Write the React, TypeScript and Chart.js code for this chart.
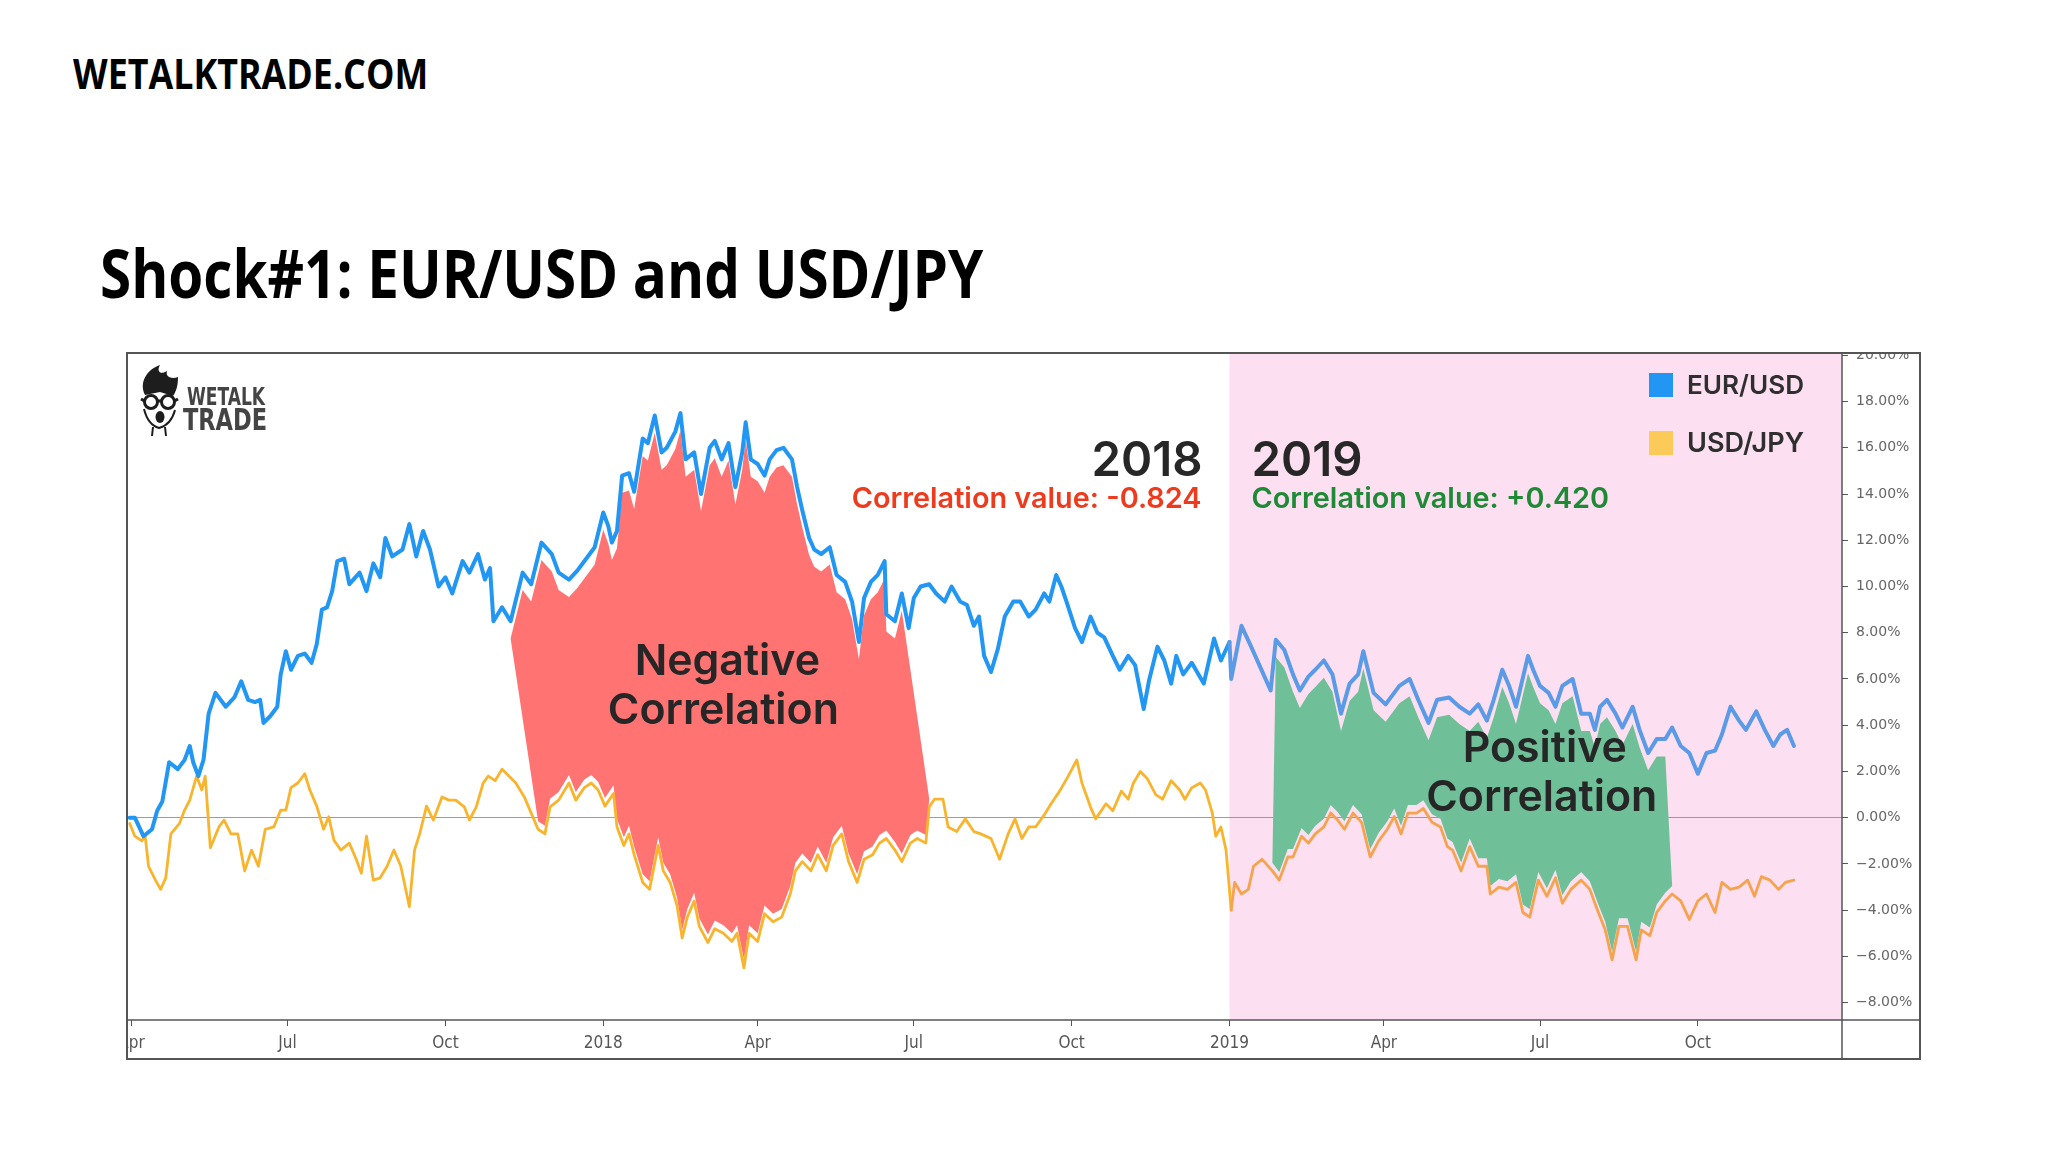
import React, { useEffect, useRef } from "react";
import { Chart, registerables } from "chart.js";

Chart.register(...registerables);

// Closes sampled every few sessions: day offset since 31 Mar 2017 and % change since then.
const BASE_UTC = Date.UTC(2017, 2, 31);
const DAY_MS = 86400000;

const eurUsdDays = [
  0, 3, 8, 13, 16, 19, 23, 28, 32, 35, 37, 40, 43, 46, 50, 56, 61, 65, 69, 73,
  76, 78, 82, 86, 88, 91, 94, 98, 102, 106, 109, 112, 115, 118, 121, 125, 128, 134, 138, 142,
  146, 149, 153, 159, 163, 167, 171, 175, 180, 184, 188, 194, 198, 203, 207, 210, 212, 217, 222, 229,
  234, 240, 246, 250, 256, 261, 267, 271, 276, 279, 281, 284, 287, 291, 294, 299, 302, 306, 310, 313,
  318, 321, 324, 329, 333, 338, 341, 345, 349, 353, 357, 359, 362, 366, 370, 373, 377, 381, 386, 389,
  392, 396, 399, 403, 408, 412, 417, 421, 425, 428, 432, 436, 440, 441, 446, 450, 454, 457, 461, 466,
  470, 475, 479, 484, 488, 492, 495, 498, 502, 506, 510, 515, 519, 524, 528, 533, 536, 540, 543, 546,
  551, 555, 560, 564, 568, 573, 577, 582, 586, 591, 594, 599, 603, 607, 610, 614, 619, 626, 632, 636,
  641, 642, 648, 653, 659, 665, 668, 673, 678, 682, 687, 691, 696, 701, 706, 711, 716, 719, 725, 732,
  740, 746, 751, 757, 762, 769, 775, 781, 786, 791, 795, 800, 804, 808, 815, 818, 822, 827, 831, 835,
  841, 846, 851, 854, 857, 861, 866, 870, 876, 880, 885, 890, 895, 899, 904, 909, 914, 919, 924, 928,
  933, 938, 942, 948, 953, 958, 962, 966, 970,
];
const eurUsdValues = [
  0.0, 0.0, -0.8, -0.5, 0.3, 0.7, 2.4, 2.1, 2.5, 3.1, 2.4, 1.8, 2.5, 4.5, 5.4, 4.8, 5.2, 5.9, 5.1, 5.0,
  5.1, 4.1, 4.4, 4.8, 6.2, 7.2, 6.4, 7.0, 7.1, 6.7, 7.5, 9.0, 9.1, 9.8, 11.1, 11.2, 10.1, 10.6, 9.8, 11.0,
  10.4, 12.1, 11.3, 11.6, 12.7, 11.3, 12.4, 11.6, 10.0, 10.4, 9.7, 11.1, 10.6, 11.4, 10.3, 10.8, 8.5, 9.1, 8.5, 10.6,
  10.1, 11.9, 11.4, 10.6, 10.3, 10.7, 11.3, 11.7, 13.2, 12.6, 11.9, 12.4, 14.8, 14.9, 14.1, 16.4, 16.2, 17.4, 15.8, 16.0,
  16.7, 17.5, 15.5, 15.8, 14.0, 16.0, 16.3, 15.5, 16.2, 14.3, 15.8, 17.1, 15.5, 15.3, 14.8, 15.5, 15.9, 16.0, 15.5, 14.3,
  13.3, 12.1, 11.6, 11.4, 11.7, 10.5, 10.2, 9.35, 7.6, 9.5, 10.2, 10.5, 11.1, 8.8, 8.5, 9.7, 8.2, 9.5, 10.0, 10.1,
  9.7, 9.35, 10.0, 9.35, 9.2, 8.3, 8.7, 7.0, 6.3, 7.3, 8.7, 9.35, 9.35, 8.7, 9.0, 9.7, 9.35, 10.5, 10.0, 9.35,
  8.2, 7.6, 8.7, 8.0, 7.8, 7.0, 6.4, 7.0, 6.6, 4.7, 5.9, 7.4, 6.8, 5.8, 7.0, 6.2, 6.7, 5.8, 7.75, 6.8,
  7.6, 6.0, 8.3, 7.5, 6.5, 5.5, 7.7, 7.25, 6.2, 5.5, 6.1, 6.4, 6.8, 6.2, 4.5, 5.8, 6.2, 7.2, 5.4, 4.9,
  5.7, 6.0, 5.1, 4.1, 5.1, 5.2, 4.8, 4.5, 4.9, 4.2, 5.1, 6.4, 5.7, 4.8, 7.0, 6.4, 5.7, 5.4, 4.8, 5.7,
  6.0, 4.5, 4.5, 3.8, 4.8, 5.1, 4.5, 3.9, 4.8, 3.8, 2.8, 3.4, 3.4, 3.9, 3.1, 2.8, 1.9, 2.8, 2.9, 3.6,
  4.8, 4.2, 3.8, 4.6, 3.8, 3.1, 3.6, 3.8, 3.1,
];

const usdJpyDays = [
  0, 3, 7, 9, 11, 15, 18, 21, 24, 29, 32, 35, 39, 42, 44, 47, 52, 55, 59, 63,
  67, 71, 75, 79, 84, 88, 91, 94, 98, 102, 105, 109, 113, 116, 119, 123, 128, 132, 135, 138,
  142, 146, 150, 154, 158, 163, 166, 169, 173, 177, 182, 186, 190, 195, 198, 202, 206, 209, 213, 217,
  221, 225, 230, 234, 238, 242, 245, 250, 256, 260, 265, 269, 273, 277, 282, 284, 288, 291, 294, 299,
  303, 308, 311, 315, 319, 322, 325, 329, 332, 337, 341, 346, 351, 354, 358, 361, 366, 370, 375, 380,
  385, 388, 392, 397, 401, 406, 410, 415, 419, 424, 428, 433, 437, 441, 446, 450, 455, 459, 464, 466,
  469, 474, 477, 482, 487, 492, 496, 502, 507, 512, 516, 520, 524, 528, 533, 537, 542, 547, 552, 555,
  560, 563, 569, 573, 578, 582, 585, 589, 593, 598, 602, 607, 612, 615, 619, 624, 627, 631, 633, 636,
  639, 642, 644, 648, 652, 655, 660, 666, 670, 675, 678, 683, 687, 691, 696, 700, 704, 708, 713, 718,
  723, 728, 733, 737, 741, 745, 750, 754, 759, 764, 768, 771, 776, 781, 786, 791, 793, 798, 803, 808,
  812, 816, 821, 826, 831, 835, 840, 846, 851, 856, 860, 864, 868, 873, 878, 881, 886, 890, 895, 899,
  904, 909, 914, 919, 924, 928, 933, 938, 943, 947, 951, 956, 961, 965, 970,
];
const usdJpyValues = [
  -0.25, -0.8, -1.0, -0.8, -2.1, -2.7, -3.1, -2.6, -0.7, -0.25, 0.33, 0.76, 1.8, 1.2, 1.8, -1.3, -0.4, -0.1, -0.7, -0.7,
  -2.3, -1.4, -2.1, -0.5, -0.4, 0.33, 0.33, 1.3, 1.5, 1.9, 1.2, 0.5, -0.5, 0.04, -0.97, -1.4, -1.1, -1.8, -2.4, -0.8,
  -2.7, -2.6, -2.1, -1.4, -2.1, -3.85, -1.4, -0.7, 0.5, -0.1, 0.9, 0.76, 0.76, 0.47, -0.1, 0.47, 1.5, 1.8, 1.6, 2.1,
  1.8, 1.5, 0.9, 0.2, -0.5, -0.7, 0.47, 0.76, 1.5, 0.76, 1.3, 1.5, 1.2, 0.5, 1.05, -0.4, -1.2, -0.7, -1.6, -2.8,
  -3.1, -1.2, -2.3, -2.8, -3.8, -5.2, -4.3, -3.6, -4.7, -5.4, -4.8, -5.0, -5.35, -5.0, -6.5, -5.0, -5.35, -4.15, -4.5, -4.3,
  -3.3, -2.3, -1.9, -2.3, -1.6, -2.3, -1.2, -0.7, -1.9, -2.8, -1.8, -1.6, -1.1, -0.9, -1.4, -1.9, -1.1, -0.9, -1.1, 0.46,
  0.8, 0.8, -0.4, -0.6, -0.05, -0.6, -0.7, -0.9, -1.8, -0.7, -0.05, -0.9, -0.4, -0.4, 0.12, 0.6, 1.15, 1.8, 2.5, 1.5,
  0.46, -0.05, 0.6, 0.3, 1.15, 0.8, 1.5, 2.0, 1.7, 1.0, 0.8, 1.6, 1.2, 0.8, 1.3, 1.5, 1.2, 0.2, -0.8, -0.4,
  -1.4, -4.0, -2.8, -3.3, -3.1, -2.1, -1.8, -2.3, -2.7, -1.7, -1.7, -0.8, -1.1, -0.7, -0.4, 0.2, -0.1, -0.5, 0.2, -0.2,
  -1.7, -1.0, -0.5, 0.05, -0.7, 0.2, 0.2, 0.4, -0.2, -0.4, -1.25, -1.4, -2.3, -1.25, -2.1, -2.1, -3.3, -3.0, -3.1, -2.8,
  -4.1, -4.3, -2.7, -3.4, -2.6, -3.7, -3.1, -2.7, -3.1, -4.1, -4.85, -6.15, -4.7, -4.7, -6.15, -4.85, -5.1, -4.1, -3.6, -3.3,
  -3.6, -4.4, -3.6, -3.3, -4.1, -2.8, -3.1, -3.0, -2.7, -3.4, -2.55, -2.7, -3.1, -2.8, -2.7,
];

const seriesNames = ["EUR/USD", "USD/JPY"];
const lineColors = ["#2196F3", "#F9B42E"];
const lineColors2019 = ["#5A9AE6", "#F5A34E"];
const legendSwatches = ["#2196F3", "#FCCA58"];

// Day windows of the highlighted bands: top edge follows EUR/USD, bottom edge follows USD/JPY
const negativeBandTop = [222, 451];
const negativeBandBottom = [237, 467];
const positiveBandTop = [668, 896];
const positiveBandBottom = [665, 900];

const correlationLabels = [
  { year: "2018", text: "Correlation value: -0.824", color: "#EE3B1E" },
  { year: "2019", text: "Correlation value: +0.420", color: "#1E8A36" },
];

const yTickValues = [-8, -6, -4, -2, 0, 2, 4, 6, 8, 10, 12, 14, 16, 18, 20];
const quarterMonths = [0, 3, 6, 9];
const tickYears = [2017, 2018, 2019, 2020];
const monthNames = ["Jan", "Feb", "Mar", "Apr", "May", "Jun", "Jul", "Aug", "Sep", "Oct", "Nov", "Dec"];

const dayOf = (y: number, m: number, d: number) => (Date.UTC(y, m, d) - BASE_UTC) / DAY_MS;

const X_MIN = -1;
const X_MAX = 998;
const Y_MIN = -8.75;
const Y_MAX = 20.1;
const DAY_2019 = dayOf(2019, 0, 1);

const AXIS_W = 78;
const AXIS_H = 39;
const ANN_FONT = 'Inter, "Open Sans", sans-serif';

const quarterTicks: number[] = [];
tickYears.forEach((y) =>
  quarterMonths.forEach((m) => {
    const d = dayOf(y, m, 1);
    if (d >= X_MIN && d <= X_MAX) quarterTicks.push(d);
  })
);

function quarterLabel(v: number) {
  const dt = new Date(BASE_UTC + Math.round(v) * DAY_MS);
  const m = dt.getUTCMonth();
  return m === 0 ? String(dt.getUTCFullYear()) : monthNames[m];
}

function toPoints(days: number[], values: number[]) {
  return days.map((d, i) => ({ x: d, y: values[i] }));
}

function bandShape(top: number[], bottom: number[], topGap: number, bottomGap: number) {
  const pts: { x: number; y: number }[] = [];
  eurUsdDays.forEach((d, i) => {
    if (d >= top[0] && d <= top[1]) pts.push({ x: d, y: eurUsdValues[i] - topGap });
  });
  for (let i = usdJpyDays.length - 1; i >= 0; i--) {
    const d = usdJpyDays[i];
    if (d >= bottom[0] && d <= bottom[1]) pts.push({ x: d, y: usdJpyValues[i] + bottomGap });
  }
  return pts;
}

function fitFont(ctx: CanvasRenderingContext2D, text: string, width: number, weight: string | number, family: string) {
  ctx.font = `${weight} 100px ${family}`;
  const size = (100 * width) / ctx.measureText(text).width;
  return `${weight} ${size.toFixed(2)}px ${family}`;
}

// Text squeezed into a box of given width and cap height
function boxText(ctx: CanvasRenderingContext2D, text: string, x: number, baseline: number, width: number, cap: number, font: string) {
  const size = cap / 0.73;
  ctx.save();
  ctx.font = `bold ${size}px ${font}`;
  const w = ctx.measureText(text).width;
  ctx.translate(x, baseline);
  ctx.scale(width / w, 1);
  ctx.textAlign = "left";
  ctx.textBaseline = "alphabetic";
  ctx.fillText(text, 0, 0);
  ctx.restore();
}

function drawLogo(ctx: CanvasRenderingContext2D, left: number, top: number) {
  ctx.save();
  ctx.translate(left, top);
  ctx.fillStyle = "#1d1d1d";
  ctx.strokeStyle = "#1d1d1d";
  // hair quiff
  ctx.beginPath();
  ctx.moveTo(5, 30);
  ctx.bezierCurveTo(-1, 18, 6, 5, 20, 0);
  ctx.bezierCurveTo(16, 7, 21, 10, 27, 6);
  ctx.bezierCurveTo(25, 13, 33, 14, 38, 12);
  ctx.bezierCurveTo(38, 21, 36, 27, 33, 31);
  ctx.lineTo(20, 27);
  ctx.closePath();
  ctx.fill();
  // glasses
  ctx.lineWidth = 3;
  ctx.beginPath();
  ctx.arc(11, 37, 6.5, 0, Math.PI * 2);
  ctx.stroke();
  ctx.beginPath();
  ctx.arc(28, 37, 6.5, 0, Math.PI * 2);
  ctx.stroke();
  ctx.beginPath();
  ctx.moveTo(17.5, 36);
  ctx.lineTo(21.5, 36);
  ctx.moveTo(4.5, 36);
  ctx.lineTo(1, 34);
  ctx.moveTo(34.5, 36);
  ctx.lineTo(38, 34);
  ctx.stroke();
  // face and mouth
  ctx.lineWidth = 2;
  ctx.beginPath();
  ctx.moveTo(4, 44);
  ctx.quadraticCurveTo(8, 60, 19, 63);
  ctx.quadraticCurveTo(31, 60, 35, 45);
  ctx.stroke();
  ctx.beginPath();
  ctx.ellipse(20, 52, 4.5, 6, 0, 0, Math.PI * 2);
  ctx.fill();
  ctx.beginPath();
  ctx.moveTo(13, 62);
  ctx.lineTo(12, 71);
  ctx.moveTo(25, 62);
  ctx.lineTo(26, 71);
  ctx.stroke();
  ctx.restore();
}

const decorPlugin = {
  id: "decor",
  beforeDraw(chart: any) {
    const { ctx, chartArea: a, scales } = chart;
    ctx.save();
    ctx.beginPath();
    ctx.rect(a.left - 1, a.top, a.right + AXIS_W - a.left + 1, a.bottom + AXIS_H - a.top);
    ctx.clip();
    const x0 = scales.x.getPixelForValue(DAY_2019);
    ctx.fillStyle = "#FCE0F1";
    ctx.fillRect(x0, a.top, a.right - x0, a.bottom - a.top);
  },
  afterDatasetsDraw(chart: any) {
    const { ctx, chartArea: a, scales } = chart;
    const xs = scales.x;
    const ys = scales.y;
    const x2019 = xs.getPixelForValue(DAY_2019);
    ctx.save();

    // correlation headline per year
    const yearFont = fitFont(ctx, correlationLabels[0].year, 111, 600, ANN_FONT);
    const yearBase = ys.getPixelForValue(14.8);
    const valueBase = ys.getPixelForValue(13.38);
    ctx.textBaseline = "alphabetic";
    ctx.fillStyle = "#272727";
    ctx.font = yearFont;
    ctx.textAlign = "right";
    ctx.fillText(correlationLabels[0].year, x2019 - 27, yearBase);
    ctx.textAlign = "left";
    ctx.fillText(correlationLabels[1].year, x2019 + 22, yearBase);
    ctx.font = fitFont(ctx, correlationLabels[0].text, 350, 600, ANN_FONT);
    ctx.fillStyle = correlationLabels[0].color;
    ctx.textAlign = "right";
    ctx.fillText(correlationLabels[0].text, x2019 - 28, valueBase);
    ctx.fillStyle = correlationLabels[1].color;
    ctx.textAlign = "left";
    ctx.fillText(correlationLabels[1].text, x2019 + 22, valueBase);

    // band captions
    ctx.font = fitFont(ctx, "Correlation", 231, 600, ANN_FONT);
    ctx.fillStyle = "#262626";
    ctx.textAlign = "center";
    ctx.textBaseline = "middle";
    const negX = xs.getPixelForValue(346);
    const negY = ys.getPixelForValue(5.65);
    ctx.fillText("Negative", negX + 4, negY - 25);
    ctx.fillText("Correlation", negX, negY + 24);
    const posX = xs.getPixelForValue(823);
    const posY = ys.getPixelForValue(1.9);
    ctx.fillText("Positive", posX + 3, posY - 25);
    ctx.fillText("Correlation", posX, posY + 24);

    // legend
    const lx = a.right - 193;
    seriesNames.forEach((name, i) => {
      const cy = a.top + 32 + i * 58;
      ctx.fillStyle = legendSwatches[i];
      ctx.fillRect(lx, cy - 12, 24, 24);
      ctx.fillStyle = "#2f2f2f";
      ctx.font = fitFont(ctx, name, 117, 600, ANN_FONT);
      ctx.textAlign = "left";
      ctx.textBaseline = "middle";
      ctx.fillText(name, lx + 38, cy + 1);
    });

    // brand mark
    drawLogo(ctx, a.left + 12, a.top + 12);
    ctx.fillStyle = "#444";
    boxText(ctx, "WETALK", a.left + 59, a.top + 52, 78, 18, '"DejaVu Sans Condensed", "DejaVu Sans", sans-serif');
    boxText(ctx, "TRADE", a.left + 55, a.top + 77, 84, 22, '"DejaVu Sans Condensed", "DejaVu Sans", sans-serif');
    ctx.restore();
  },
  afterDraw(chart: any) {
    const { ctx, chartArea: a } = chart;
    ctx.restore();
    ctx.save();
    ctx.strokeStyle = "#555";
    ctx.lineWidth = 2;
    ctx.strokeRect(a.left - 1, a.top, a.right + AXIS_W - a.left + 1, a.bottom + AXIS_H - a.top);
    ctx.lineWidth = 1.5;
    ctx.beginPath();
    ctx.moveTo(a.right, a.top);
    ctx.lineTo(a.right, a.bottom + AXIS_H);
    ctx.moveTo(a.left - 1, a.bottom);
    ctx.lineTo(a.right + AXIS_W, a.bottom);
    ctx.stroke();
    ctx.restore();
  },
};

function buildConfig(): any {
  const lineDataset = (i: number, days: number[], values: number[], width: number, order: number) => ({
    label: seriesNames[i],
    data: toPoints(days, values),
    borderColor: lineColors[i],
    borderWidth: width,
    pointRadius: 0,
    tension: 0,
    fill: false,
    order,
    segment: {
      borderColor: (c: any) => (c.p0.parsed.x >= DAY_2019 ? lineColors2019[i] : undefined),
    },
  });
  const bandDataset = (label: string, data: any[], color: string) => ({
    label,
    data,
    backgroundColor: color,
    borderColor: "rgba(0,0,0,0)",
    borderWidth: 0,
    pointRadius: 0,
    tension: 0,
    fill: "shape",
    order: 5,
  });

  return {
    type: "line",
    data: {
      datasets: [
        lineDataset(0, eurUsdDays, eurUsdValues, 4, 1),
        lineDataset(1, usdJpyDays, usdJpyValues, 2.8, 2),
        bandDataset("Negative Correlation", bandShape(negativeBandTop, negativeBandBottom, 0.75, 0.35), "#FF7373"),
        bandDataset("Positive Correlation", bandShape(positiveBandTop, positiveBandBottom, 0.75, 0.35), "#6FBF98"),
      ],
    },
    options: {
      animation: false,
      responsive: false,
      devicePixelRatio: 1,
      events: [],
      layout: { padding: { left: 28, top: 23, right: 30, bottom: 31 } },
      elements: { line: { borderJoinStyle: "round", borderCapStyle: "round" } },
      plugins: {
        legend: { display: false },
        tooltip: { enabled: false },
        filler: { propagate: false },
      },
      scales: {
        x: {
          type: "linear",
          min: X_MIN,
          max: X_MAX,
          afterBuildTicks: (s: any) => {
            s.ticks = quarterTicks.map((v) => ({ value: v }));
          },
          afterFit: (s: any) => {
            s.height = AXIS_H;
          },
          border: { display: false },
          grid: { drawOnChartArea: false, drawTicks: true, tickLength: 6, tickColor: "#555", lineWidth: 1 },
          ticks: {
            autoSkip: false,
            maxRotation: 0,
            padding: 7,
            color: "#555",
            font: { family: '"DejaVu Sans Condensed", "Liberation Sans Narrow", "DejaVu Sans", sans-serif', size: 17 },
            callback: (v: number) => quarterLabel(v),
          },
        },
        y: {
          type: "linear",
          position: "right",
          min: Y_MIN,
          max: Y_MAX,
          z: 1,
          afterBuildTicks: (s: any) => {
            s.ticks = yTickValues.map((v) => ({ value: v }));
          },
          afterFit: (s: any) => {
            s.width = AXIS_W;
          },
          border: { display: false },
          grid: {
            drawTicks: true,
            tickLength: 6,
            tickColor: "#555",
            lineWidth: 1,
            color: (c: any) => (c.tick && c.tick.value === 0 ? "rgba(140,140,140,0.85)" : "rgba(0,0,0,0)"),
          },
          ticks: {
            padding: 8,
            color: "#666",
            font: { family: '"DejaVu Sans", sans-serif', size: 14 },
            callback: (v: number) => (v < 0 ? "\u2212" : "") + Math.abs(v).toFixed(2) + "%",
          },
        },
      },
    },
    plugins: [decorPlugin],
  };
}

export default function App() {
  const canvasRef = useRef<HTMLCanvasElement>(null);

  useEffect(() => {
    const canvas = canvasRef.current;
    if (!canvas) return;
    const chart = new Chart(canvas, buildConfig());
    return () => chart.destroy();
  }, []);

  return (
    <div
      style={{
        position: "absolute",
        left: 0,
        top: 0,
        width: 2048,
        height: 1152,
        background: "#fff",
        overflow: "hidden",
      }}
    >
      <div
        style={{
          position: "absolute",
          left: 73,
          top: 52,
          font: '700 42px "Open Sans", sans-serif',
          lineHeight: "42px",
          color: "#000",
          whiteSpace: "nowrap",
          transform: "scaleX(0.853)",
          transformOrigin: "0 0",
        }}
      >
        WETALKTRADE.COM
      </div>
      <div
        style={{
          position: "absolute",
          left: 100,
          top: 239,
          font: '700 66px "Open Sans", sans-serif',
          lineHeight: "66px",
          color: "#000",
          whiteSpace: "nowrap",
          transform: "scaleX(0.857)",
          transformOrigin: "0 0",
        }}
      >
        Shock#1: EUR/USD and USD/JPY
      </div>
      <canvas
        ref={canvasRef}
        width={1850}
        height={760}
        style={{ position: "absolute", left: 100, top: 330, width: 1850, height: 760 }}
      />
    </div>
  );
}
